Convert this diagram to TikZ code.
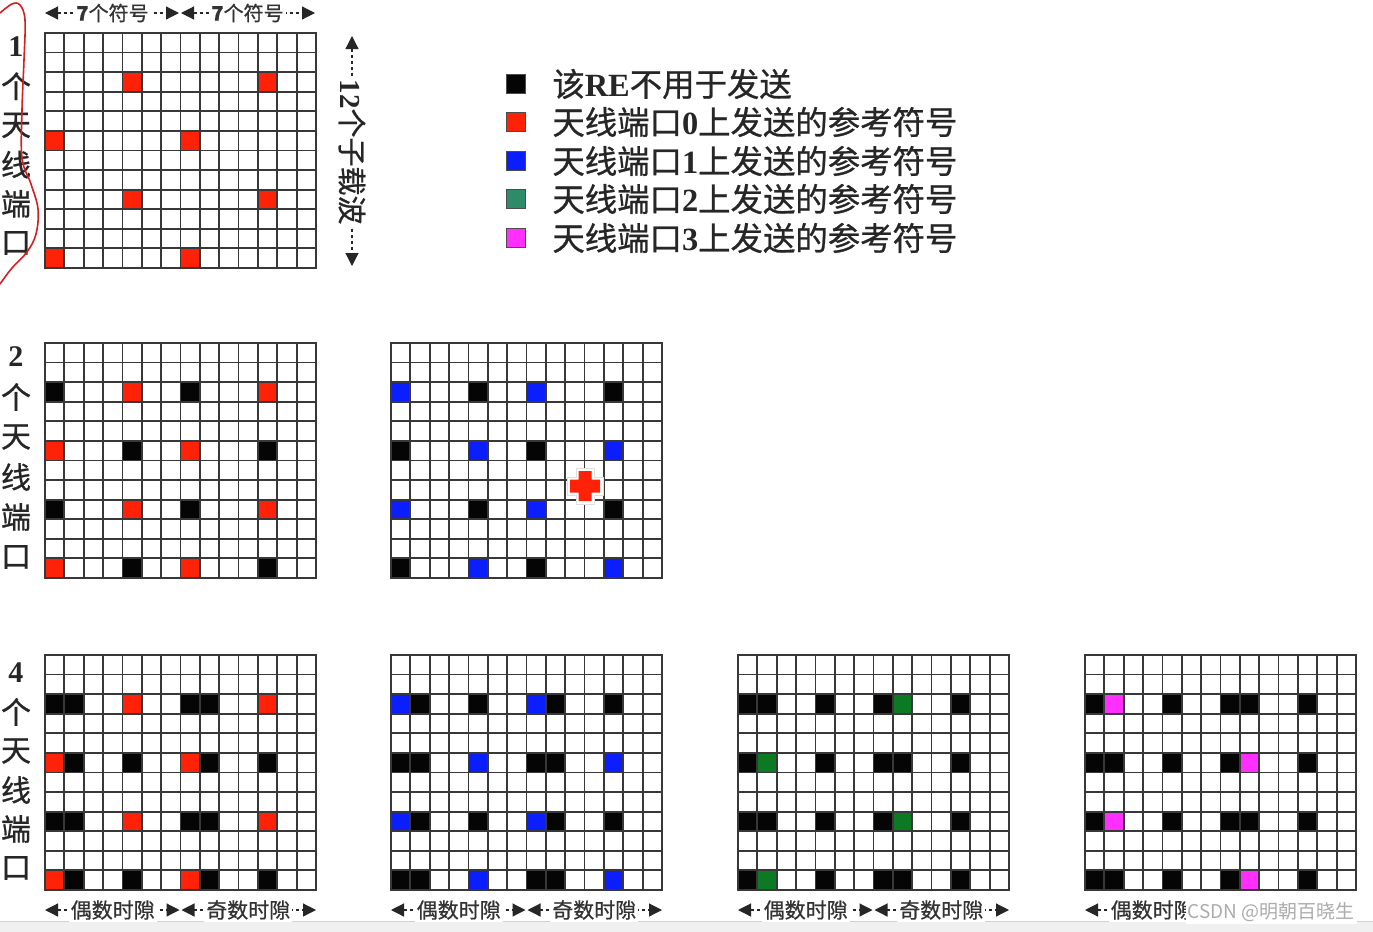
\documentclass[tikz,border=0pt]{standalone}
\usepackage{fontspec}
\setmainfont{Liberation Serif}
\newfontfamily\cjk[FakeBold=0.8]{Noto Sans CJK SC}
\newfontfamily\cjkw{Noto Sans CJK SC}
\usetikzlibrary{arrows.meta,calc}
\definecolor{cK}{HTML}{050505}
\definecolor{cR}{HTML}{FF2208}
\definecolor{cB}{HTML}{0A1EFF}
\definecolor{cG}{HTML}{0B7A22}
\definecolor{cLG}{HTML}{2E8B6A}
\definecolor{cM}{HTML}{FF30FF}
\definecolor{pen}{HTML}{D42020}
\tikzset{
  gl/.style={draw=black!78,line width=0.9pt},
  vlab/.style={text=black!85,inner sep=0pt,font=\fontsize{15pt}{15pt}\selectfont},
  dimline/.style={{Triangle[length=6.5pt,width=6.5pt]}-{Triangle[length=6.5pt,width=6.5pt]},
     dash pattern=on 1.5pt off 1.5pt,line width=0.6pt,black!85},
  toptext/.style={fill=white,inner sep=1pt,text=black!80,font=\fontsize{10pt}{10pt}\selectfont\cjk},
  bottext/.style={fill=white,inner sep=1pt,text=black!80,font=\fontsize{10.5pt}{10.5pt}\selectfont\cjk},
  legsq/.style={fill=#1,draw=black!70,line width=0.6pt,minimum size=9.5pt,inner sep=0pt},
  legtext/.style={anchor=west,inner sep=0pt,text=black!85,font=\fontsize{16.2pt}{18pt}\selectfont},
}
\newcommand{\regrid}[3]{%
  \begin{scope}[shift={(#1,#2)},x=9.679pt,y=-9.79pt]
    \foreach \c/\r/\k in {#3} {\fill[\k] (\c,\r) rectangle ++(1,1);}
    \foreach \i in {0,...,14} {\draw[gl] (\i,0) -- (\i,12);}
    \foreach \j in {0,...,12} {\draw[gl] (0,\j) -- (14,\j);}
    \draw[gl] (0,0) rectangle (14,12);
  \end{scope}}
\newcommand{\vlabel}[4]{%
  \node[vlab] (#1-0) at (16,#3) {\textbf{#2}};
  \foreach \ch [count=\n] in {个,天,线,端,口}
    {\node[vlab] (#1-\n) at (16,#3+#4*\n) {\cjk\ch};}}
\newcommand{\slotlabels}[2]{%
  \coordinate (#1a) at (#2,910);
  \coordinate (#1m) at (#2+135.5,910);
  \coordinate (#1b) at (#2+271,910);
  \draw[dimline] (#1a) -- ($(#1m)+(-1,0)$);
  \draw[dimline] ($(#1m)+(1,0)$) -- (#1b);
  \node[bottext] (#1e) at ($(#1a)!0.5!(#1m)$) {偶数时隙};
  \node[bottext] (#1o) at ($(#1m)!0.5!(#1b)$) {奇数时隙};}
\begin{document}
\begin{tikzpicture}[x=0.5pt,y=-0.5pt]
\useasboundingbox (0,0) rectangle (1373,932);
\fill[white] (0,0) rectangle (1373,932);
\fill[gray!12] (0,921) rectangle (1373,932);
\draw[gray!35,line width=0.5pt] (0,921) -- (1373,921);

% ---------- grids ----------
\regrid{45}{33}{4/2/cR,11/2/cR,0/5/cR,7/5/cR,4/8/cR,11/8/cR,0/11/cR,7/11/cR}
\regrid{45}{343}{0/2/cK,4/2/cR,7/2/cK,11/2/cR,0/5/cR,4/5/cK,7/5/cR,11/5/cK,0/8/cK,4/8/cR,7/8/cK,11/8/cR,0/11/cR,4/11/cK,7/11/cR,11/11/cK}
\regrid{391}{343}{0/2/cB,4/2/cK,7/2/cB,11/2/cK,0/5/cK,4/5/cB,7/5/cK,11/5/cB,0/8/cB,4/8/cK,7/8/cB,11/8/cK,0/11/cK,4/11/cB,7/11/cK,11/11/cB}
\regrid{45}{655}{0/2/cK,1/2/cK,4/2/cR,7/2/cK,8/2/cK,11/2/cR,0/5/cR,1/5/cK,4/5/cK,7/5/cR,8/5/cK,11/5/cK,0/8/cK,1/8/cK,4/8/cR,7/8/cK,8/8/cK,11/8/cR,0/11/cR,1/11/cK,4/11/cK,7/11/cR,8/11/cK,11/11/cK}
\regrid{391}{655}{0/2/cB,1/2/cK,4/2/cK,7/2/cB,8/2/cK,11/2/cK,0/5/cK,1/5/cK,4/5/cB,7/5/cK,8/5/cK,11/5/cB,0/8/cB,1/8/cK,4/8/cK,7/8/cB,8/8/cK,11/8/cK,0/11/cK,1/11/cK,4/11/cB,7/11/cK,8/11/cK,11/11/cB}
\regrid{738}{655}{0/2/cK,1/2/cK,4/2/cK,7/2/cK,8/2/cG,11/2/cK,0/5/cK,1/5/cG,4/5/cK,7/5/cK,8/5/cK,11/5/cK,0/8/cK,1/8/cK,4/8/cK,7/8/cK,8/8/cG,11/8/cK,0/11/cK,1/11/cG,4/11/cK,7/11/cK,8/11/cK,11/11/cK}
\regrid{1085}{655}{0/2/cK,1/2/cM,4/2/cK,7/2/cK,8/2/cK,11/2/cK,0/5/cK,1/5/cK,4/5/cK,7/5/cK,8/5/cM,11/5/cK,0/8/cK,1/8/cM,4/8/cK,7/8/cK,8/8/cK,11/8/cK,0/11/cK,1/11/cK,4/11/cK,7/11/cK,8/11/cM,11/11/cK}

% ---------- left labels ----------
\vlabel{L1}{1}{47}{39.2}
\vlabel{L2}{2}{357}{40}
\vlabel{L4}{4}{673}{39}

% hand-drawn red mark
\draw[pen,line width=0.8pt,line cap=round] plot[smooth,tension=0.6] coordinates
  {(0,13) (12,4) (20,5) (25,20) (24,60) (22,110) (22,158) (31,184) (38,209) (36,234) (27,252) (12,268) (0,284)};

% ---------- top dimension arrows ----------
\coordinate (ta) at (45,13);
\coordinate (tm) at (180,13);
\coordinate (tb) at (315,13);
\draw[dimline] (ta) -- ($(tm)+(-1,0)$);
\draw[dimline] ($(tm)+(1,0)$) -- (tb);
\node[toptext] (t1) at ($(ta)!0.5!(tm)$) {\textbf{7}个符号};
\node[toptext] (t2) at ($(tm)!0.5!(tb)$) {\textbf{7}个符号};

% ---------- right dimension arrow ----------
\coordinate (ra) at (352,36);
\coordinate (rb) at (352,266);
\draw[dimline] (ra) -- (rb);
\node[fill=white,inner sep=1pt,text=black!85,rotate=-90,font=\fontsize{14.5pt}{14.5pt}\selectfont] (rt) at (352,152) {\textbf{12}\cjk 个子载波};

% ---------- legend ----------
\node[legsq=cK] (s0) at (516,84) {};
\node[legsq=cR] (s1) at (516,122) {};
\node[legsq=cB] (s2) at (516,161) {};
\node[legsq=cLG] (s3) at (516,199) {};
\node[legsq=cM] (s4) at (516,238) {};
\node[legtext] (g0) at (552,84) {{\cjk 该}\textbf{RE}{\cjk 不用于发送}};
\node[legtext] (g1) at (552,122) {{\cjk 天线端口}\textbf{0}{\cjk 上发送的参考符号}};
\node[legtext] (g2) at (552,161) {{\cjk 天线端口}\textbf{1}{\cjk 上发送的参考符号}};
\node[legtext] (g3) at (552,199) {{\cjk 天线端口}\textbf{2}{\cjk 上发送的参考符号}};
\node[legtext] (g4) at (552,238) {{\cjk 天线端口}\textbf{3}{\cjk 上发送的参考符号}};

% ---------- bottom slot labels ----------
\slotlabels{A}{45}
\slotlabels{B}{391}
\slotlabels{C}{738}
\slotlabels{D}{1085}

% watermark
\node[anchor=east,inner sep=1pt,fill=white,text=gray!65,font=\fontsize{9.5pt}{9.5pt}\selectfont\cjkw] (wm) at (1357,912) {CSDN @明朝百晓生};

% cursor cross
\begin{scope}[shift={(585,486)}]
  \fill[white,draw=gray!25,line width=0.4pt] (-9,-18) -- (9,-18) -- (9,-9) -- (18,-9) -- (18,9) -- (9,9) -- (9,18) -- (-9,18) -- (-9,9) -- (-18,9) -- (-18,-9) -- (-9,-9) -- cycle;
  \fill[cR] (-6.5,-15) -- (6.5,-15) -- (6.5,-6.5) -- (15,-6.5) -- (15,6.5) -- (6.5,6.5) -- (6.5,15) -- (-6.5,15) -- (-6.5,6.5) -- (-15,6.5) -- (-15,-6.5) -- (-6.5,-6.5) -- cycle;
\end{scope}
\end{tikzpicture}
\end{document}
